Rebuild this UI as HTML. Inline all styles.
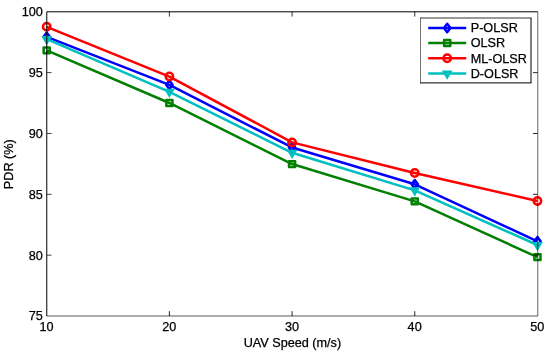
<!DOCTYPE html>
<html><head><meta charset="utf-8"><title>PDR vs UAV Speed</title>
<style>
html,body{margin:0;padding:0;background:#fff;}
body{width:550px;height:354px;overflow:hidden;}
svg{display:block}
text{font-family:"Liberation Sans",Arial,sans-serif;font-size:12.67px;fill:#000;stroke:#000;stroke-width:0.25px;}
</style></head><body>
<svg width="550" height="354" viewBox="0 0 550 354">
<rect width="550" height="354" fill="#fff"/>
<polyline points="46.70,36.88 169.39,84.86 292.08,147.45 414.76,184.26 537.45,241.30" fill="none" stroke="#0000ff" stroke-width="2.5" stroke-linejoin="round"/>
<path d="M46.70 32.58 L49.90 36.88 L46.70 41.18 L43.50 36.88 Z" fill="none" stroke="#0000ff" stroke-width="2.5" stroke-linejoin="round"/>
<path d="M169.39 80.56 L172.59 84.86 L169.39 89.16 L166.19 84.86 Z" fill="none" stroke="#0000ff" stroke-width="2.5" stroke-linejoin="round"/>
<path d="M292.08 143.15 L295.28 147.45 L292.08 151.75 L288.88 147.45 Z" fill="none" stroke="#0000ff" stroke-width="2.5" stroke-linejoin="round"/>
<path d="M414.76 179.96 L417.96 184.26 L414.76 188.56 L411.56 184.26 Z" fill="none" stroke="#0000ff" stroke-width="2.5" stroke-linejoin="round"/>
<path d="M537.45 237.00 L540.65 241.30 L537.45 245.60 L534.25 241.30 Z" fill="none" stroke="#0000ff" stroke-width="2.5" stroke-linejoin="round"/>
<polyline points="46.70,50.40 169.39,102.98 292.08,164.04 414.76,201.41 537.45,257.21" fill="none" stroke="#007f00" stroke-width="2.5" stroke-linejoin="round"/>
<rect x="43.65" y="47.50" width="6.1" height="5.8" fill="none" stroke="#007f00" stroke-width="2.5" stroke-linejoin="round"/>
<rect x="166.34" y="100.08" width="6.1" height="5.8" fill="none" stroke="#007f00" stroke-width="2.5" stroke-linejoin="round"/>
<rect x="289.03" y="161.14" width="6.1" height="5.8" fill="none" stroke="#007f00" stroke-width="2.5" stroke-linejoin="round"/>
<rect x="411.71" y="198.51" width="6.1" height="5.8" fill="none" stroke="#007f00" stroke-width="2.5" stroke-linejoin="round"/>
<rect x="534.40" y="254.31" width="6.1" height="5.8" fill="none" stroke="#007f00" stroke-width="2.5" stroke-linejoin="round"/>
<polyline points="46.70,26.81 169.39,76.54 292.08,142.38 414.76,172.95 537.45,201.07" fill="none" stroke="#ff0000" stroke-width="2.5" stroke-linejoin="round"/>
<circle cx="46.70" cy="26.81" r="3.7" fill="none" stroke="#ff0000" stroke-width="2.5"/>
<circle cx="169.39" cy="76.54" r="3.7" fill="none" stroke="#ff0000" stroke-width="2.5"/>
<circle cx="292.08" cy="142.38" r="3.7" fill="none" stroke="#ff0000" stroke-width="2.5"/>
<circle cx="414.76" cy="172.95" r="3.7" fill="none" stroke="#ff0000" stroke-width="2.5"/>
<circle cx="537.45" cy="201.07" r="3.7" fill="none" stroke="#ff0000" stroke-width="2.5"/>
<polyline points="46.70,39.21 169.39,91.92 292.08,152.80 414.76,190.37 537.45,244.99" fill="none" stroke="#00bfbf" stroke-width="2.5" stroke-linejoin="round"/>
<path d="M43.50 37.36 L49.90 37.36 L46.70 42.91 Z" fill="none" stroke="#00bfbf" stroke-width="2.5"/>
<path d="M166.18 90.07 L172.59 90.07 L169.39 95.62 Z" fill="none" stroke="#00bfbf" stroke-width="2.5"/>
<path d="M288.87 150.95 L295.28 150.95 L292.08 156.50 Z" fill="none" stroke="#00bfbf" stroke-width="2.5"/>
<path d="M411.56 188.52 L417.97 188.52 L414.76 194.07 Z" fill="none" stroke="#00bfbf" stroke-width="2.5"/>
<path d="M534.25 243.14 L540.65 243.14 L537.45 248.69 Z" fill="none" stroke="#00bfbf" stroke-width="2.5"/>
<g stroke="#000" stroke-width="1" fill="none">
<line x1="46.77" y1="11.8" x2="537.77" y2="11.8"/>
<line x1="46.77" y1="11.8" x2="46.77" y2="316.0"/>
<line x1="46.77" y1="316.0" x2="537.77" y2="316.0" stroke-opacity="0.66"/>
<line x1="537.77" y1="11.8" x2="537.77" y2="316.0" stroke-opacity="0.6"/>
<line x1="169.39" y1="316.0" x2="169.39" y2="311.2" stroke-opacity="0.85"/>
<line x1="169.39" y1="11.8" x2="169.39" y2="16.6" stroke-opacity="0.8"/>
<line x1="292.08" y1="316.0" x2="292.08" y2="311.2" stroke-opacity="0.85"/>
<line x1="292.08" y1="11.8" x2="292.08" y2="16.6" stroke-opacity="0.8"/>
<line x1="414.76" y1="316.0" x2="414.76" y2="311.2" stroke-opacity="0.85"/>
<line x1="414.76" y1="11.8" x2="414.76" y2="16.6" stroke-opacity="0.8"/>
<line x1="46.77" y1="255.16" x2="51.57" y2="255.16" stroke-opacity="0.75"/>
<line x1="537.77" y1="255.16" x2="532.97" y2="255.16" stroke-opacity="0.85"/>
<line x1="46.77" y1="194.32" x2="51.57" y2="194.32" stroke-opacity="0.75"/>
<line x1="537.77" y1="194.32" x2="532.97" y2="194.32" stroke-opacity="0.85"/>
<line x1="46.77" y1="133.48" x2="51.57" y2="133.48" stroke-opacity="0.75"/>
<line x1="537.77" y1="133.48" x2="532.97" y2="133.48" stroke-opacity="0.85"/>
<line x1="46.77" y1="72.64" x2="51.57" y2="72.64" stroke-opacity="0.75"/>
<line x1="537.77" y1="72.64" x2="532.97" y2="72.64" stroke-opacity="0.85"/>
</g>
<text x="46.60" y="331" text-anchor="middle">10</text>
<text x="169.29" y="331" text-anchor="middle">20</text>
<text x="291.98" y="331" text-anchor="middle">30</text>
<text x="414.66" y="331" text-anchor="middle">40</text>
<text x="537.35" y="331" text-anchor="middle">50</text>
<text x="42.9" y="320.45" text-anchor="end">75</text>
<text x="42.9" y="259.61" text-anchor="end">80</text>
<text x="42.9" y="198.77" text-anchor="end">85</text>
<text x="42.9" y="137.93" text-anchor="end">90</text>
<text x="42.9" y="77.09" text-anchor="end">95</text>
<text x="42.9" y="16.25" text-anchor="end">100</text>
<text x="292.4" y="347.3" text-anchor="middle">UAV Speed (m/s)</text>
<text transform="translate(13.3,164.2) rotate(-90)" text-anchor="middle">PDR (%)</text>
<rect x="420.5" y="18.0" width="110.50" height="64.90" fill="#fff" stroke="none"/>
<g stroke="#000" stroke-width="1" fill="none">
<line x1="420.0" y1="18.0" x2="531.5" y2="18.0" stroke-opacity="0.8"/>
<line x1="420.0" y1="82.9" x2="531.5" y2="82.9"/>
<line x1="420.5" y1="18.0" x2="420.5" y2="82.9" stroke-opacity="0.55"/>
<line x1="531.0" y1="18.0" x2="531.0" y2="82.9"/>
</g>
<line x1="428.2" y1="28.0" x2="466.2" y2="28.0" stroke="#0000ff" stroke-width="2.5"/>
<path d="M447.20 23.70 L450.40 28.00 L447.20 32.30 L444.00 28.00 Z" fill="none" stroke="#0000ff" stroke-width="2.5" stroke-linejoin="round"/>
<text x="470.7" y="32.20">P-OLSR</text>
<line x1="428.2" y1="43.0" x2="466.2" y2="43.0" stroke="#007f00" stroke-width="2.5"/>
<rect x="444.15" y="40.10" width="6.1" height="5.8" fill="none" stroke="#007f00" stroke-width="2.5" stroke-linejoin="round"/>
<text x="470.7" y="47.20">OLSR</text>
<line x1="428.2" y1="58.3" x2="466.2" y2="58.3" stroke="#ff0000" stroke-width="2.5"/>
<circle cx="447.20" cy="58.30" r="3.7" fill="none" stroke="#ff0000" stroke-width="2.5"/>
<text x="470.7" y="62.50">ML-OLSR</text>
<line x1="428.2" y1="73.6" x2="466.2" y2="73.6" stroke="#00bfbf" stroke-width="2.5"/>
<path d="M444.00 71.75 L450.40 71.75 L447.20 77.30 Z" fill="none" stroke="#00bfbf" stroke-width="2.5"/>
<text x="470.7" y="77.80">D-OLSR</text>
</svg></body></html>
